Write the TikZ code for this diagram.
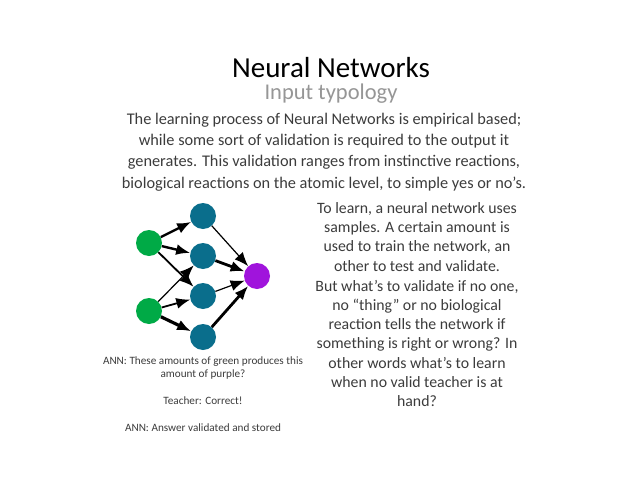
\documentclass[tikz,border=0pt]{standalone}
\usepackage{fontspec}
\setmainfont{Carlito}
\usetikzlibrary{arrows.meta}
\definecolor{ngreen}{RGB}{0,170,70}
\definecolor{nblue}{RGB}{10,110,140}
\definecolor{npurp}{RGB}{160,20,220}
\definecolor{sub}{RGB}{150,150,150}
\definecolor{txt}{RGB}{60,60,60}
\begin{document}
\begin{tikzpicture}[x=1pt,y=-1pt,
  neur/.style={circle,minimum size=26pt,inner sep=0pt},
  con/.style={-{Latex[length=14pt,width=11pt]},black}]
\useasboundingbox (0,0) rectangle (638,493);
\fill[white] (0,0) rectangle (638,493);
\node[font=\fontsize{29}{33}\selectfont] (t) at (331,68) {Neural Networks};
\node[font=\fontsize{22.5}{26}\selectfont,text=sub] (s) at (331,94) {Input typology};
\node[font=\fontsize{16.3}{21.3}\selectfont,text=txt,align=center] (p) at (324,152) {The learning process of Neural Networks is empirical based;\\while some sort of validation is required to the output it\\generates. This validation ranges from instinctive reactions,\\biological reactions on the atomic level, to simple yes or no’s.};
\node[font=\fontsize{15.8}{19.2}\selectfont,text=txt,align=center,anchor=north] (r) at (417,199) {To learn, a neural network uses\\samples. A certain amount is\\used to train the network, an\\other to test and validate.\\[1pt]But what’s to validate if no one,\\no “thing” or no biological\\reaction tells the network if\\something is right or wrong? In\\other words what’s to learn\\when no valid teacher is at\\hand?};
\node[font=\fontsize{11.2}{13}\selectfont,text=txt,align=center] (c1) at (203,368) {ANN: These amounts of green produces this\\amount of purple?};
\node[font=\fontsize{11.2}{13}\selectfont,text=txt] (c2) at (203,401) {Teacher: Correct!};
\node[font=\fontsize{11.2}{13}\selectfont,text=txt] (c3) at (203,428) {ANN: Answer validated and stored};
\node[neur,fill=ngreen] (g1) at (149,243) {};
\node[neur,fill=ngreen] (g2) at (149,311) {};
\node[neur,fill=nblue] (b1) at (203,216) {};
\node[neur,fill=nblue] (b2) at (203,256) {};
\node[neur,fill=nblue] (b3) at (203,296) {};
\node[neur,fill=nblue] (b4) at (203,337) {};
\node[neur,fill=npurp] (o) at (257,276) {};
\draw[con,line width=2.4pt] (g1) -- (b1);
\draw[con,line width=2.4pt] (g1) -- (b2);
\draw[con,line width=1.8pt] (g1) -- (b3);
\draw[con,line width=1.2pt] (g2) -- (b2);
\draw[con,line width=1.8pt] (g2) -- (b3);
\draw[con,line width=3.2pt] (g2) -- (b4);
\draw[con,line width=1.2pt] (b1) -- (o);
\draw[con,line width=2.8pt] (b2) -- (o);
\draw[con,line width=1.2pt] (b3) -- (o);
\draw[con,line width=2.8pt] (b4) -- (o);
\end{tikzpicture}
\end{document}
